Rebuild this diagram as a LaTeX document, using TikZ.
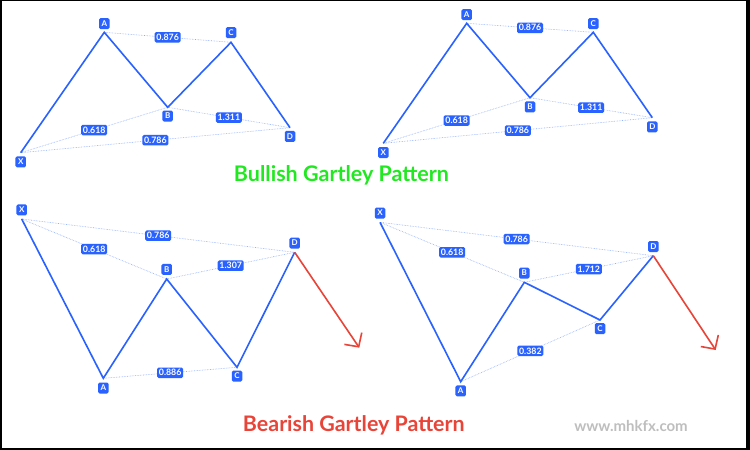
\documentclass[tikz,border=0pt]{standalone}
\usepackage{fontspec}
\usetikzlibrary{positioning, calc, arrows.meta}
\newfontfamily\labelfont{Lato}
\newfontfamily\titlefont{Lato}
\definecolor{tvblue}{RGB}{41,98,255}
\definecolor{bullgreen}{RGB}{34,232,34}
\definecolor{bearred}{RGB}{232,68,56}
\definecolor{markgray}{RGB}{190,190,190}
\tikzset{
  leg/.style = {draw = tvblue, line width = 1.6pt, line join = miter},
  fib/.style = {draw = tvblue!55, densely dotted, line width = 0.6pt},
  ptbox/.style = {fill = tvblue, rounded corners = 1.5pt, text = white, font = \labelfont\bfseries\fontsize{8}{8}\selectfont, minimum width = 10.5pt, minimum height = 11pt, inner sep = 0pt},
  ratiobox/.style = {ptbox, font = \labelfont\bfseries\fontsize{8.8}{9}\selectfont, minimum width = 26pt, minimum height = 10.5pt},
  drop/.style = {draw = bearred, line width = 1.6pt, -{Straight Barb[length = 10pt, width = 21pt, line width = 1.6pt]}}
}

\begin{document}
\begin{tikzpicture}[x = 1pt, y = -1pt]

% frame
\fill[black] (0,0) rectangle (750,450);
\fill[white] (1.5,1) rectangle (746,448);
\useasboundingbox (0,0) rectangle (750,450);

% bullish, left
\coordinate (x1) at (20.7,152.7);
\coordinate (a1) at (104.3,32.3);
\coordinate (b1) at (167.7,107.3);
\coordinate (c1) at (231,42.3);
\coordinate (d1) at (290,127.7);

\draw[fib] (a1) -- (c1);
\draw[fib] (x1) -- (b1);
\draw[fib] (b1) -- (d1);
\draw[fib] (x1) -- (d1);
\draw[leg] (x1) -- (a1) -- (b1) -- (c1) -- (d1);

\node (lx1) [ptbox, below = 3.5pt of x1] {X};
\node (la1) [ptbox, above = 3pt of a1] {A};
\node (lb1) [ptbox, below = 3pt of b1] {B};
\node (lc1) [ptbox, above = 4pt of c1] {C};
\node (ld1) [ptbox, below = 3pt of d1] {D};

\node (r1ac) [ratiobox] at ($(a1)!0.5!(c1)$) {0.876};
\node (r1xb) [ratiobox] at ($(x1)!0.5!(b1)$) {0.618};
\node (r1bd) [ratiobox] at ($(b1)!0.5!(d1)$) {1.311};
\node (r1xd) [ratiobox] at ($(x1)!0.5!(d1)$) {0.786};

% bullish, right
\coordinate (x2) at (383.3,143.3);
\coordinate (a2) at (466.7,23.3);
\coordinate (b2) at (530,97.7);
\coordinate (c2) at (593.3,32.3);
\coordinate (d2) at (652.3,117.7);

\draw[fib] (a2) -- (c2);
\draw[fib] (x2) -- (b2);
\draw[fib] (b2) -- (d2);
\draw[fib] (x2) -- (d2);
\draw[leg] (x2) -- (a2) -- (b2) -- (c2) -- (d2);

\node (lx2) [ptbox, below = 3.5pt of x2] {X};
\node (la2) [ptbox, above = 3pt of a2] {A};
\node (lb2) [ptbox, below = 3.5pt of b2] {B};
\node (lc2) [ptbox, above = 3pt of c2] {C};
\node (ld2) [ptbox, below = 3.5pt of d2] {D};

\node (r2ac) [ratiobox] at ($(a2)!0.5!(c2)$) {0.876};
\node (r2xb) [ratiobox] at ($(x2)!0.5!(b2)$) {0.618};
\node (r2bd) [ratiobox] at ($(b2)!0.5!(d2)$) {1.311};
\node (r2xd) [ratiobox] at ($(x2)!0.5!(d2)$) {0.786};

\node (bull) [font = \titlefont\bfseries\fontsize{21.5}{23}\selectfont, text = bullgreen] at (341.5,175) {Bullish Gartley Pattern};

% bearish, left
\coordinate (x3) at (21.7,219);
\coordinate (a3) at (103.3,378.3);
\coordinate (b3) at (166.7,279);
\coordinate (c3) at (237,367.3);
\coordinate (d3) at (294.7,252.3);
\coordinate (e3) at (359.3,347.7);

\draw[fib] (x3) -- (d3);
\draw[fib] (x3) -- (b3);
\draw[fib] (b3) -- (d3);
\draw[fib] (a3) -- (c3);
\draw[leg] (x3) -- (a3) -- (b3) -- (c3) -- (d3);
\draw[drop] (d3) -- (e3);

\node (lx3) [ptbox, above = 3.5pt of x3] {X};
\node (la3) [ptbox, below = 4pt of a3] {A};
\node (lb3) [ptbox, above = 4pt of b3] {B};
\node (lc3) [ptbox, below = 3pt of c3] {C};
\node (ld3) [ptbox, above = 3.5pt of d3] {D};

\node (r3xd) [ratiobox] at ($(x3)!0.5!(d3)$) {0.786};
\node (r3xb) [ratiobox] at ($(x3)!0.5!(b3)$) {0.618};
\node (r3bd) [ratiobox] at ($(b3)!0.5!(d3)$) {1.307};
\node (r3ac) [ratiobox] at ($(a3)!0.5!(c3)$) {0.886};

% bearish, right
\coordinate (x4) at (380,222.3);
\coordinate (a4) at (460.7,381.7);
\coordinate (b4) at (524.3,282.3);
\coordinate (c4) at (600,320);
\coordinate (d4) at (653.3,255.7);
\coordinate (e4) at (715.7,350);

\draw[fib] (x4) -- (d4);
\draw[fib] (x4) -- (b4);
\draw[fib] (b4) -- (d4);
\draw[fib] (a4) -- (c4);
\draw[leg] (x4) -- (a4) -- (b4) -- (c4) -- (d4);
\draw[drop] (d4) -- (e4);

\node (lx4) [ptbox, above = 3.5pt of x4] {X};
\node (la4) [ptbox, below = 3.5pt of a4] {A};
\node (lb4) [ptbox, above = 3.5pt of b4] {B};
\node (lc4) [ptbox, below = 3pt of c4] {C};
\node (ld4) [ptbox, above = 3.5pt of d4] {D};

\node (r4xd) [ratiobox] at ($(x4)!0.5!(d4)$) {0.786};
\node (r4xb) [ratiobox] at ($(x4)!0.5!(b4)$) {0.618};
\node (r4bd) [ratiobox] at ($(b4)!0.5!(d4)$) {1.712};
\node (r4ac) [ratiobox] at ($(a4)!0.5!(c4)$) {0.382};

\node (bear) [font = \titlefont\bfseries\fontsize{21.4}{23}\selectfont, text = bearred] at (353.8,425) {Bearish Gartley Pattern};
\node (site) [font = \titlefont\bfseries\fontsize{15}{16}\selectfont, text = markgray] at (631,425.7) {www.mhkfx.com};

\end{tikzpicture}
\end{document}
